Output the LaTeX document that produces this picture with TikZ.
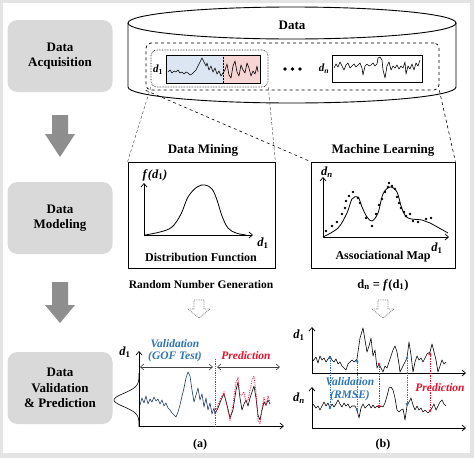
\documentclass[tikz,border=0pt]{standalone}
\usepackage{fontspec}
\setmainfont{Liberation Serif}
\usetikzlibrary{arrows.meta}
\definecolor{boxgray}{HTML}{D9D9D9}
\definecolor{arrgray}{HTML}{8E8E8E}
\definecolor{vblue}{HTML}{2E75B6}
\definecolor{sigblue}{HTML}{1F3A5F}
\definecolor{pred}{HTML}{E8112D}
\definecolor{lblue}{HTML}{DCE6F2}
\definecolor{lred}{HTML}{F8D5D5}
\definecolor{framegray}{HTML}{E4E4E4}
\newcommand{\usub}[1]{\textsubscript{\upshape #1}}
\begin{document}
\begin{tikzpicture}[x=1pt,y=-1pt,
 stagebox/.style={fill=boxgray, rounded corners=10pt, minimum width=105pt, minimum height=72pt, align=center, font=\fontsize{13}{15.5}\selectfont\bfseries, inner sep=0pt},
 bigarrow/.style={fill=arrgray, draw=none},
 hollowarrow/.style={draw=black!55, densely dotted, line width=0.8pt, fill=white},
 title/.style={font=\fontsize{13}{15}\selectfont\bfseries, inner sep=0pt},
 sub/.style={font=\fontsize{12}{14}\selectfont\bfseries, inner sep=0pt},
 lab/.style={font=\fontsize{12.5}{14}\selectfont\bfseries\itshape, inner sep=0pt},
 smalllab/.style={font=\fontsize{11}{13}\selectfont\bfseries\itshape, inner sep=0pt},
 axis/.style={line width=0.7pt, -{Straight Barb[length=3.5pt,width=6pt]}},
 dbl/.style={line width=0.6pt, black!75, {Straight Barb[length=3.5pt,width=6pt]}-{Straight Barb[length=3.5pt,width=6pt]}},
 sig/.style={line width=0.6pt, line join=round},
 vtext/.style={font=\fontsize{11.5}{12.5}\selectfont\bfseries\itshape, text=vblue, inner sep=0pt, align=center},
 ptext/.style={font=\fontsize{11.5}{13}\selectfont\bfseries\itshape, text=pred, inner sep=0pt},
 panelbox/.style={draw, line width=0.8pt, minimum height=106pt, inner sep=0pt},
 vline/.style={densely dotted, line width=0.7pt, -{Triangle[length=3pt,width=3pt]}},
 mk/.style={circle, fill, inner sep=0pt, minimum size=2.6pt},
]
\useasboundingbox (0,0) rectangle (474,458);
\fill[framegray] (0,0) rectangle (474,458);
\fill[white] (3,3) rectangle (470,453);

% left column
\node[stagebox] (acq) at (60,56) {Data\\Acquisition};
\node[stagebox] (mod) at (60,218) {Data\\Modeling};
\node[stagebox] (val) at (60,388) {Data\\Validation\\\& Prediction};
\fill[bigarrow] (52,115) -- (68,115) -- (68,134) -- (75,134) -- (60,157) -- (45,134) -- (52,134) -- cycle;
\fill[bigarrow] (52,282) -- (68,282) -- (68,305) -- (75,305) -- (60,323) -- (45,305) -- (52,305) -- cycle;

% cylinder
\draw[line width=0.9pt, fill=white] (128,23) -- (128,87) arc[start angle=180,end angle=360,x radius=164pt,y radius=16pt] -- (456,23);
\draw[line width=0.9pt] (292,23) ellipse[x radius=164pt, y radius=16pt];
\node[title] (datalbl) at (292,25) {Data};

\node[draw, dashed, line width=0.7pt, rounded corners=5pt, minimum width=293pt, minimum height=47pt, inner sep=0pt] (sel) at (292.5,66.5) {};
\node[draw, densely dotted, line width=0.6pt, rounded corners=6pt, minimum width=117pt, minimum height=37pt, inner sep=0pt] (d1sel) at (209.5,68.5) {};

\fill[lblue] (166,55) rectangle (223,83);
\fill[lred] (223,55) rectangle (260,83);
\draw[densely dotted, line width=0.5pt] (223,55) -- (223,83);
\draw[sig] plot coordinates {(168,72)(170,70)(172,73)(174,71)(176,72)(178,70)(180,73)(182,72)(184,74)(186,72)(188,73)(190,75)(192,74)(194,72)(196,70)(198,66)(200,62)(202,58)(204,62)(206,66)(207,63)(209,70)(211,66)(213,72)(215,68)(217,74)(219,71)(221,76)(223,73)(225,70)(227,64)(229,75)(231,78)(233,66)(235,61)(237,72)(239,76)(241,65)(243,70)(245,73)(247,63)(249,68)(251,76)(253,71)(255,74)(257,66)(258,72)};
\node[draw, line width=0.8pt, minimum width=94pt, minimum height=28pt, inner sep=0pt] (d1box) at (213,69) {};
\node[smalllab] (d1top) at (158,70) {d\usub{1}};

\fill (285,69) circle (1.9pt) (292.5,69) circle (1.9pt) (300,69) circle (1.9pt);
\node[smalllab] (dntop) at (324,69) {d\textsubscript{n}};
\draw[sig] plot coordinates {(334,68)(336,64)(338,67)(340,62)(342,66)(344,70)(346,65)(348,63)(350,68)(352,66)(354,64)(356,67)(358,65)(360,63)(362,68)(363,75)(365,66)(367,64)(369,66)(371,65)(373,63)(375,66)(377,64)(378,58)(380,57)(382,60)(383,70)(385,78)(387,66)(389,62)(391,70)(393,66)(395,68)(397,65)(399,69)(401,66)(403,68)(405,62)(406,74)(408,66)(410,69)(412,64)(414,70)(416,63)(418,66)(420,60)};
\node[draw, line width=0.8pt, minimum width=90pt, minimum height=27pt, inner sep=0pt] (dnbox) at (377,68.5) {};

% modeling panels
\node[title] (dmtitle) at (203,150) {Data Mining};
\node[title] (mltitle) at (383,150) {Machine Learning};
\node[panelbox, minimum width=147pt] (dm) at (201.5,215) {};
\node[panelbox, minimum width=144pt] (ml) at (383,215) {};
\draw[densely dashed, line width=0.45pt, black!70] (d1sel.south west) -- (dm.north west);
\draw[densely dashed, line width=0.45pt, black!70] (d1sel.south east) -- (dm.north east);
\draw[dashed, line width=0.6pt] (sel.south west) -- (ml.north west);
\draw[dashed, line width=0.6pt] (sel.south east) -- (ml.north east);

% distribution function
\coordinate (dmo) at (144,235);
\coordinate (dmy) at (144,183);
\coordinate (dmx) at (253,235);
\draw[axis] (dmo) -- (dmy);
\draw[axis] (dmo) -- (dmx);
\node[lab] (fd1) at (155,175) {f\/(d\usub{1})};
\node[lab] (dmd1) at (263,243) {d\usub{1}};
\draw[line width=0.8pt] plot[smooth, tension=0.6] coordinates {(145,235)(160,232)(172,227)(181,214)(188,197)(197,187)(205,185)(212,189)(217,200)(222,216)(228,228)(236,233)(246,235)};
\node[sub] (dflbl) at (201,257) {Distribution Function};

% associational map
\coordinate (mlo) at (323,237);
\coordinate (mly) at (323,177);
\coordinate (mlx) at (449,237);
\draw[axis] (mlo) -- (mly);
\draw[axis] (mlo) -- (mlx);
\node[lab] (mldn) at (327,172) {d\textsubscript{n}};
\node[lab] (mld1) at (437,248) {d\usub{1}};
\draw[line width=0.8pt] plot[smooth, tension=0.55] coordinates {(323,237)(338,228)(347,213)(352,199)(358,197)(362,207)(367,217)(372,221)(378,213)(383,194)(390,187)(397,192)(402,209)(408,218)(422,220)(430,223)(448,233)};
\foreach \p [count=\i] in {(326,231),(332,226),(337,222),(342,214),(345,208),(346,201),(349,196),(353,192),(358,198),(360,203),(366,218),(372,226),(376,214),(379,205),(382,199),(385,192),(388,187),(389,183),(392,186),(395,189),(397,197),(399,203),(401,208),(404,212),(406,216),(410,214),(413,221),(418,222),(426,219),(431,218)}
  \node[mk] (pt\i) at \p {};
\node[sub] (amlbl) at (383,257) {Associational Map};

\node[font=\fontsize{11.5}{13}\selectfont\bfseries, inner sep=0pt] (rng) at (201,285) {Random Number Generation};
\node[font=\fontsize{12.5}{14}\selectfont\bfseries, inner sep=0pt] (fmap) at (383,285) {d\textsubscript{n} = \textit{f}(d\textsubscript{1})};

% hollow arrows
\draw[hollowarrow] (194,300) -- (204,300) -- (204,309) -- (210,309) -- (199,318) -- (188,309) -- (194,309) -- cycle;
\draw[hollowarrow] (378,300) -- (388,300) -- (388,309) -- (394,309) -- (383,318) -- (372,309) -- (378,309) -- cycle;

% panel (a)
\coordinate (ao) at (139,426);
\coordinate (ay) at (139,351);
\coordinate (ax) at (284,426);
\draw[axis] (ao) -- (ay);
\draw[axis] (ao) -- (ax);
\node[lab] (ad1) at (125,352) {d\usub{1}};
\draw[line width=0.6pt] plot[domain=-27:27, samples=45, smooth] ({139-25*exp(-(\x/9.5)^2)},{400+\x});
\coordinate (va) at (140,367);
\coordinate (vb) at (213,367);
\coordinate (pa) at (217,367);
\coordinate (pb) at (280,367);
\draw[dbl] (va) -- (vb);
\draw[dbl] (pa) -- (pb);
\node[vtext] (avtxt) at (175,350.5) {Validation\\(GOF Test)};
\node[ptext] (aptxt) at (246,356) {Prediction};
\draw[sig, sigblue] plot coordinates {(140,405)(142,398)(144,403)(146,396)(148,404)(150,399)(152,402)(154,397)(156,401)(158,399)(160,404)(162,400)(164,406)(166,403)(168,408)(170,410)(172,413)(174,415)(176,417)(178,412)(180,405)(182,396)(184,388)(186,378)(188,372)(190,376)(192,390)(194,402)(196,395)(198,388)(200,400)(202,394)(204,407)(206,398)(208,410)(210,403)(212,414)(214,408)(215,414)};
\draw[sig] plot coordinates {(215,414)(218,408)(221,400)(224,394)(227,405)(230,418)(233,410)(236,390)(238,382)(240,398)(242,410)(244,404)(246,400)(248,406)(250,398)(252,392)(254,386)(256,398)(258,415)(260,420)(262,410)(264,402)(266,405)(268,400)(270,404)};
\draw[pred, densely dotted, line width=0.8pt] plot coordinates {(215,414)(218,405)(221,398)(224,392)(227,406)(230,420)(233,405)(236,382)(238,378)(240,395)(242,395)(244,392)(246,402)(248,400)(250,390)(252,380)(254,376)(256,392)(258,420)(260,424)(262,408)(264,398)(266,405)(268,396)(270,402)};
\coordinate (rt) at (215,359);
\coordinate (rb) at (215,426);
\draw[pred, densely dotted, line width=0.8pt] (rt) -- (rb);
\node[sub] (alab) at (200,445) {(a)};

% panel (b)
\coordinate (bo1) at (312,373);
\coordinate (by1) at (312,327);
\coordinate (bx1) at (466,373);
\coordinate (bo2) at (312,428);
\coordinate (by2) at (312,387);
\coordinate (bx2) at (466,428);
\draw[axis] (bo1) -- (by1);
\draw[axis] (bo1) -- (bx1);
\draw[axis] (bo2) -- (by2);
\draw[axis] (bo2) -- (bx2);
\node[lab] (bd1) at (299,335) {d\usub{1}};
\node[lab] (bdn) at (299,398) {d\textsubscript{n}};
\draw[sig] plot coordinates {(313,361)(316,357)(318,363)(320,356)(322,360)(324,358)(326,362)(328,359)(330,356)(332,360)(334,362)(336,359)(338,364)(340,362)(342,366)(344,368)(346,370)(348,364)(350,362)(352,360)(354,362)(356,360)(357,359)(358,352)(360,338)(363,328)(365,340)(367,352)(369,346)(371,338)(373,356)(375,350)(377,368)(379,364)(381,368)(383,372)(385,366)(387,368)(389,362)(391,356)(393,350)(395,346)(397,352)(399,364)(400,372)(402,368)(404,364)(406,360)(407,358)(408,350)(409,342)(411,355)(413,372)(415,362)(417,356)(419,360)(421,358)(423,362)(425,358)(427,354)(430,352)(432,344)(434,352)(436,360)(438,372)(440,366)(442,360)(444,364)(446,362)};
\draw[sig] plot coordinates {(313,404)(316,408)(318,406)(320,410)(322,406)(324,402)(326,406)(328,403)(330,408)(332,404)(334,407)(336,404)(338,400)(340,404)(342,407)(344,403)(346,406)(348,404)(350,408)(352,406)(355,406)(357,410)(359,418)(361,408)(363,404)(365,408)(367,406)(369,404)(371,408)(373,405)(375,408)(377,406)(379,408)(381,406)(383,407)(385,403)(387,396)(389,388)(391,387)(393,390)(395,398)(397,410)(399,412)(401,410)(403,409)(404,414)(405,420)(407,406)(409,402)(411,398)(413,405)(415,410)(417,406)(419,410)(421,408)(423,412)(425,410)(428,413)(430,411)(432,408)(434,404)(436,410)(438,406)(440,402)(442,400)(444,404)(446,406)};
\coordinate (b1t) at (330,356); \coordinate (b1b) at (330,408);
\coordinate (b2t) at (357,359); \coordinate (b2b) at (357,410);
\coordinate (r1t) at (379,364); \coordinate (r1b) at (379,408);
\coordinate (b3t) at (407,358); \coordinate (b3b) at (407,406);
\coordinate (r2t) at (430,352); \coordinate (r2b) at (430,411);
\draw[vline, vblue] (b1b) -- (b1t);
\draw[vline, vblue] (b2b) -- (b2t);
\draw[vline, vblue] (b3t) -- (b3b);
\draw[vline, pred] (r1t) -- (r1b);
\draw[vline, pred] (r2b) -- (r2t);
\foreach \c in {b1b,b2b,b3t} \fill[vblue] (\c) circle (1.3pt);
\foreach \c in {r1t,r2b} \fill[pred] (\c) circle (1.3pt);
\node[vtext] (bvtxt) at (350,389) {Validation\\(RMSE)};
\node[ptext] (bptxt) at (440,388) {Prediction};
\node[sub] (blab) at (383,445) {(b)};
\end{tikzpicture}
\end{document}
